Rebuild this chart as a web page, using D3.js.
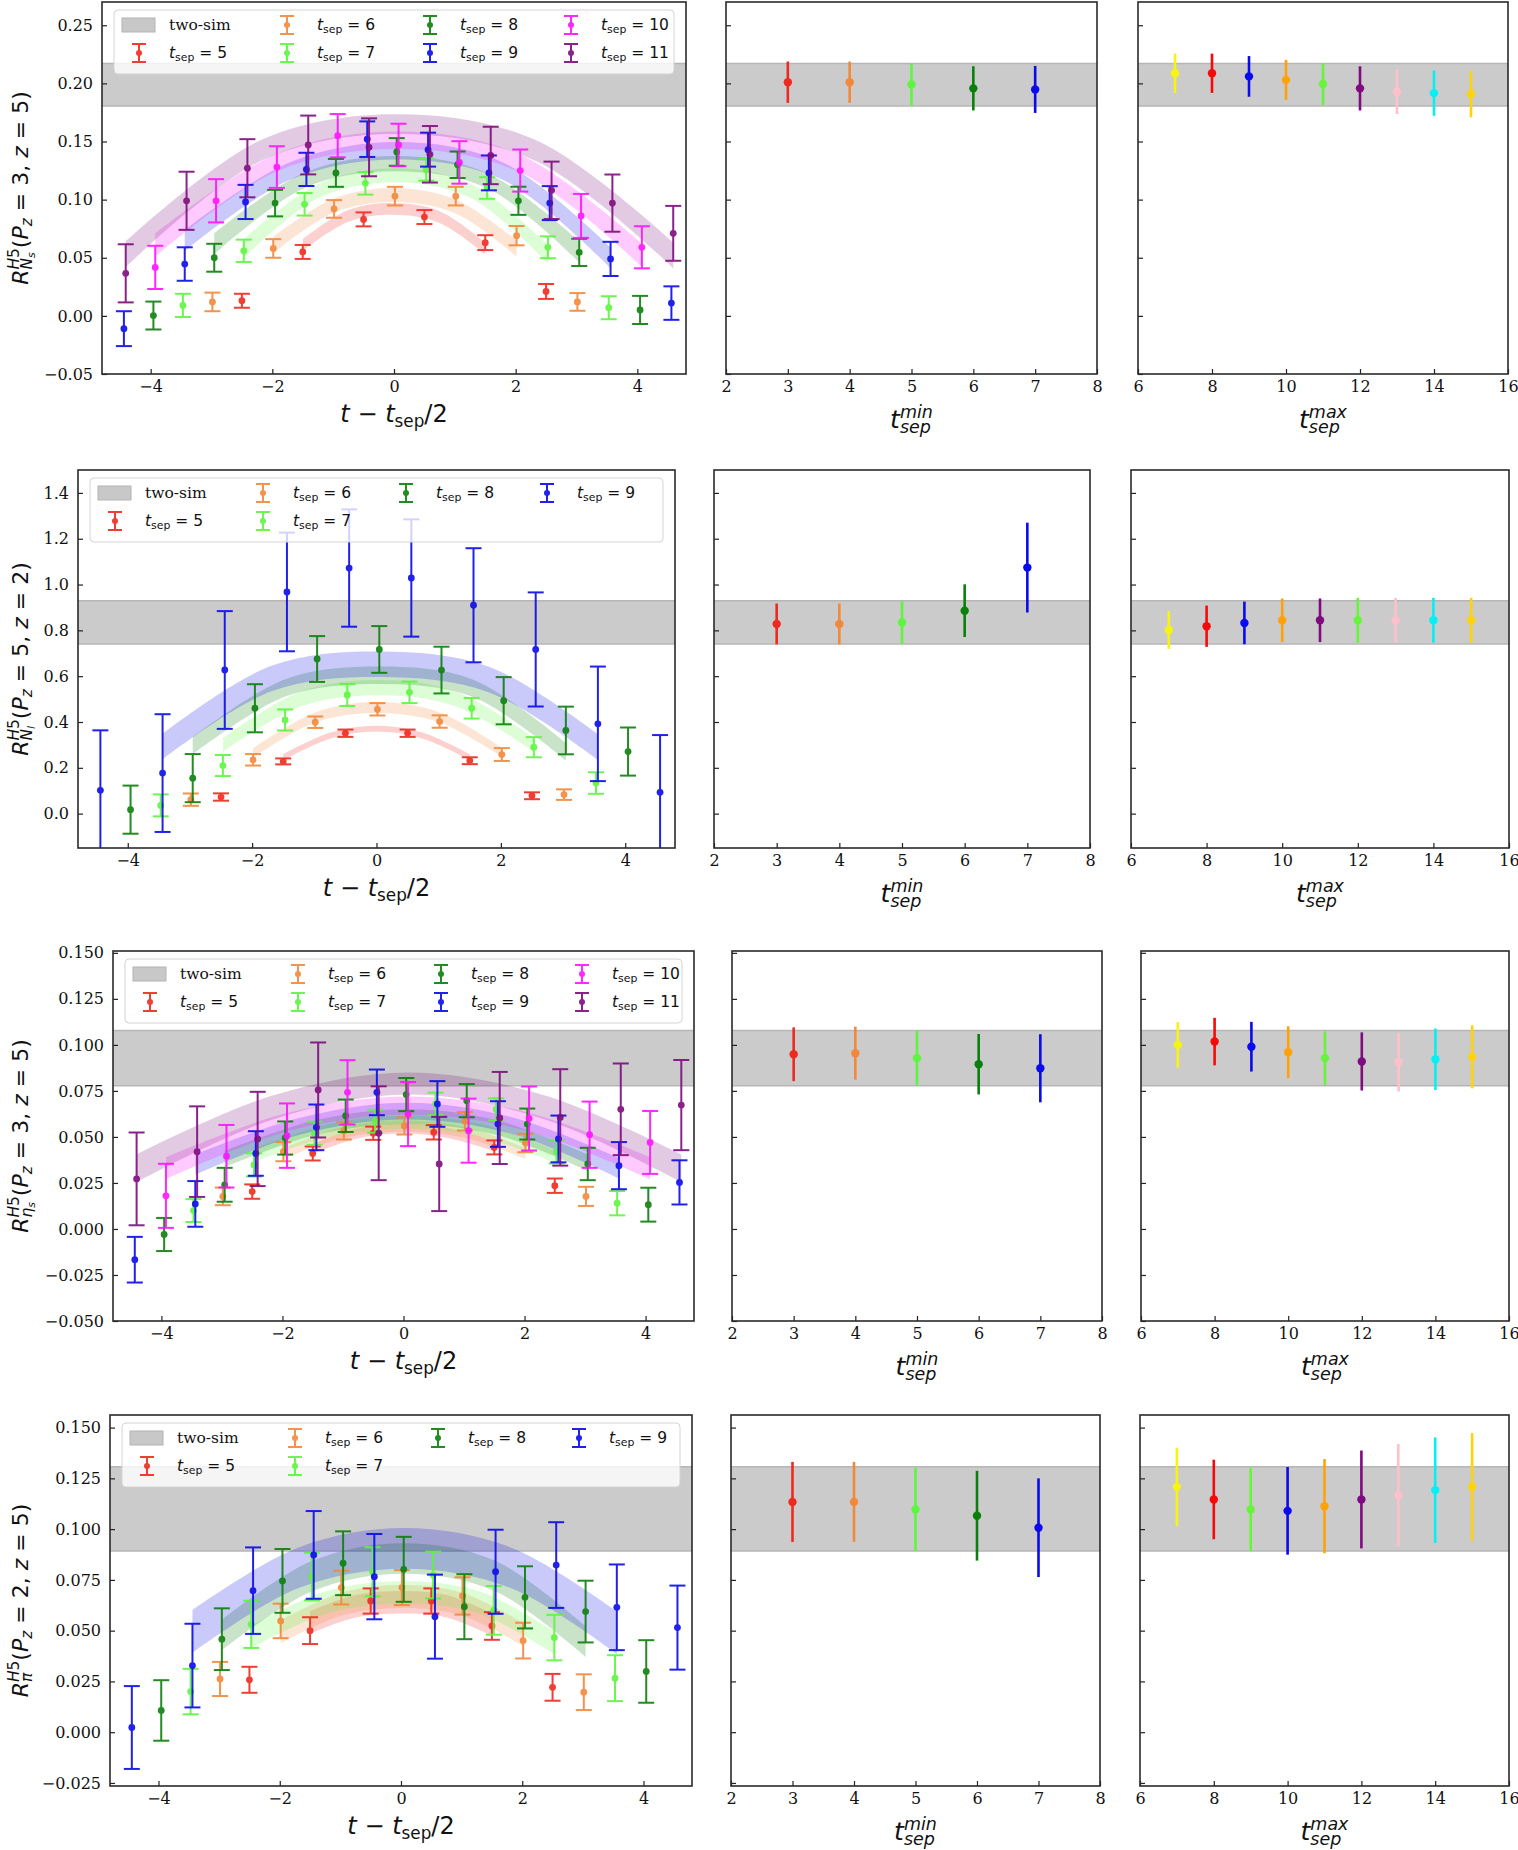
<!DOCTYPE html>
<html>
<head>
<meta charset="utf-8">
<script src="https://cdn.jsdelivr.net/npm/d3@7"></script>
<style>
  body { margin: 0; background: #fff; }
  text { fill: #111; }
</style>
</head>
<body>
<svg id="fig" width="1518" height="1850"></svg>
<script>
// ---------- data ----------
const leftXTicks = [-4, -2, 0, 2, 4]
const minXTicks = [2, 3, 4, 5, 6, 7, 8]
const maxXTicks = [6, 8, 10, 12, 14, 16]
const tminX = [3, 4, 5, 6, 7]
const tmaxX = [7, 8, 9, 10, 11, 12, 13, 14, 15]
const bandFrac = [-1, -0.5, 0, 0.5, 1]   // where the fit bands were read: ends, halfway, centre

// row 1: N_s, Pz=3, z=5
const r1Tsep = [5, 6, 7, 8, 9, 10, 11]
const r1YTicks = [-0.05, 0, 0.05, 0.1, 0.15, 0.2, 0.25]
const r1Val = [
  [0.013, 0.055, 0.083, 0.085, 0.063, 0.021],
  [0.012, 0.058, 0.092, 0.103, 0.103, 0.069, 0.012],
  [0.009, 0.056, 0.096, 0.114, 0.126, 0.110, 0.059, 0.007],
  [0.0003, 0.050, 0.097, 0.123, 0.141, 0.130, 0.099, 0.0546, 0.0051],
  [-0.011, 0.0446, 0.098, 0.126, 0.152, 0.143, 0.123, 0.097, 0.049, 0.011],
  [null, 0.0417, 0.099, 0.128, 0.155, 0.147, 0.132, 0.125, 0.086, 0.059, null],
  [null, 0.0366, 0.099, 0.127, 0.147, 0.145, 0.139, 0.138, 0.108, 0.097, 0.071, null]
]
const r1Err = [
  [0.006, 0.006, 0.006, 0.006, 0.0064, 0.0064],
  [0.008, 0.008, 0.0076, 0.008, 0.008, 0.0083, 0.0076],
  [0.010, 0.0096, 0.0097, 0.0097, 0.0097, 0.0093, 0.0094, 0.0099],
  [0.012, 0.012, 0.0114, 0.012, 0.0119, 0.0114, 0.0121, 0.0117, 0.0121],
  [0.015, 0.0144, 0.0147, 0.0143, 0.0153, 0.0146, 0.015, 0.0146, 0.0147, 0.0144],
  [null, 0.0186, 0.0186, 0.0179, 0.0186, 0.0183, 0.0183, 0.0181, 0.0189, 0.0181, null],
  [null, 0.025, 0.025, 0.025, 0.0253, 0.0249, 0.0243, 0.0247, 0.0247, 0.0246, 0.0236, null]
]
const r1BandMid = [
  [0.061, 0.086, 0.092, 0.085, 0.058],
  [0.061, 0.095, 0.104, 0.094, 0.058],
  [0.058, 0.108, 0.121, 0.107, 0.053],
  [0.062, 0.117, 0.131, 0.116, 0.055],
  [0.065, 0.125, 0.142, 0.124, 0.050],
  [0.061, 0.132, 0.151, 0.131, 0.052],
  [0.053, 0.143, 0.165, 0.142, 0.052]
]
const r1BandHw = [
  [0.005, 0.005, 0.005, 0.005, 0.005],
  [0.007, 0.006, 0.006, 0.006, 0.007],
  [0.008, 0.006, 0.006, 0.006, 0.008],
  [0.009, 0.0065, 0.0065, 0.0065, 0.009],
  [0.009, 0.0075, 0.0075, 0.0075, 0.009],
  [0.010, 0.0075, 0.0075, 0.0075, 0.010],
  [0.011, 0.009, 0.0085, 0.009, 0.011]
]
const r1TwoSim = [0.1805, 0.217]
const r1MinVal = [0.201, 0.201, 0.199, 0.1957, 0.1948]
const r1MinErr = [0.0178, 0.0178, 0.0179, 0.019, 0.0202]
const r1MaxVal = [0.2087, 0.2087, 0.206, 0.203, 0.1994, 0.1957, 0.1928, 0.1916, 0.1908]
const r1MaxErr = [0.017, 0.0169, 0.0175, 0.0172, 0.0179, 0.019, 0.0192, 0.0195, 0.020]

// row 2: N_l, Pz=5, z=2
const r2Tsep = [5, 6, 7, 8, 9]
const r2YTicks = [0, 0.2, 0.4, 0.6, 0.8, 1.0, 1.2, 1.4]
const r2Val = [
  [0.0725, 0.228, 0.351, 0.351, 0.231, 0.078],
  [0.061, 0.235, 0.399, 0.4555, 0.402, 0.258, 0.083],
  [0.036, 0.21, 0.409, 0.518, 0.5295, 0.46, 0.29, 0.1335],
  [0.0174, 0.155, 0.46, 0.675, 0.7167, 0.6267, 0.493, 0.363, 0.271],
  [0.1016, 0.177, 0.627, 0.9677, 1.072, 1.0286, 0.9096, 0.7167, 0.392, 0.093]
]
const r2Err = [
  [0.016, 0.013, 0.016, 0.016, 0.015, 0.015],
  [0.027, 0.025, 0.025, 0.027, 0.027, 0.028, 0.023],
  [0.048, 0.046, 0.046, 0.048, 0.047, 0.045, 0.044, 0.047],
  [0.105, 0.105, 0.105, 0.1, 0.102, 0.102, 0.103, 0.104, 0.105],
  [0.262, 0.257, 0.257, 0.259, 0.256, 0.256, 0.249, 0.249, 0.25, 0.25]
]
const r2BandMid = [
  [0.246, 0.34, 0.371, 0.34, 0.246],
  [0.265, 0.42, 0.463, 0.42, 0.268],
  [0.30, 0.50, 0.55, 0.50, 0.30],
  [0.297, 0.55, 0.604, 0.548, 0.27],
  [0.293, 0.59, 0.652, 0.585, 0.29]
]
const r2BandHw = [
  [0.013, 0.013, 0.013, 0.013, 0.013],
  [0.02, 0.022, 0.024, 0.022, 0.02],
  [0.03, 0.032, 0.033, 0.032, 0.03],
  [0.038, 0.038, 0.038, 0.038, 0.038],
  [0.056, 0.056, 0.056, 0.056, 0.056]
]
const r2TwoSim = [0.741, 0.929]
const r2MinVal = [0.828, 0.828, 0.834, 0.886, 1.074]
const r2MinErr = [0.089, 0.089, 0.093, 0.115, 0.196]
const r2MaxVal = [0.802, 0.818, 0.8325, 0.844, 0.844, 0.844, 0.844, 0.844, 0.844]
const r2MaxErr = [0.083, 0.09, 0.093, 0.095, 0.095, 0.098, 0.098, 0.098, 0.098]

// row 3: eta_s, Pz=3, z=5
const r3Tsep = [5, 6, 7, 8, 9, 10, 11]
const r3YTicks = [-0.05, -0.025, 0, 0.025, 0.05, 0.075, 0.1, 0.125, 0.15]
const r3Val = [
  [0.0203, 0.041, 0.052, 0.0525, 0.0443, 0.0235],
  [0.0177, 0.042, 0.0534, 0.056, 0.0585, 0.0467, 0.0177],
  [0.010, 0.0348, 0.052, 0.0585, 0.068, 0.065, 0.042, 0.014],
  [-0.003, 0.024, 0.0494, 0.0615, 0.073, 0.0697, 0.057, 0.0353, 0.0132],
  [-0.0167, 0.0136, 0.041, 0.0552, 0.0742, 0.0679, 0.057, 0.0489, 0.0344, 0.0253],
  [null, 0.018, 0.0395, 0.0507, 0.0742, 0.0624, 0.0534, 0.06, 0.0512, 0.047, null],
  [null, 0.0272, 0.042, 0.0489, 0.0755, 0.052, 0.0353, 0.0603, 0.0606, 0.065, 0.0673, null]
]
const r3Err = [
  [0.0039, 0.0038, 0.0036, 0.0039, 0.0038, 0.0039],
  [0.0048, 0.0052, 0.0048, 0.0047, 0.005, 0.005, 0.0052],
  [0.0062, 0.0063, 0.0063, 0.0062, 0.0061, 0.006, 0.0064, 0.0066],
  [0.009, 0.0092, 0.009, 0.0088, 0.009, 0.009, 0.0084, 0.0088, 0.0092],
  [0.0124, 0.0124, 0.0121, 0.0124, 0.0124, 0.0124, 0.0124, 0.0127, 0.0128, 0.012],
  [null, 0.0174, 0.017, 0.0175, 0.0175, 0.0174, 0.0174, 0.0174, 0.018, 0.0171, null],
  [null, 0.0252, 0.0246, 0.0256, 0.0258, 0.0255, 0.0256, 0.025, 0.0262, 0.0249, 0.0245, null]
]
const r3BandMid = [
  [0.0435, 0.052, 0.0545, 0.052, 0.045],
  [0.041, 0.0525, 0.056, 0.0525, 0.041],
  [0.040, 0.0535, 0.058, 0.0535, 0.039],
  [0.038, 0.055, 0.061, 0.055, 0.036],
  [0.035, 0.056, 0.064, 0.056, 0.033],
  [0.033, 0.058, 0.067, 0.058, 0.033],
  [0.033, 0.066, 0.079, 0.066, 0.033]
]
const r3BandHw = [
  [0.0027, 0.0027, 0.0027, 0.0027, 0.0027],
  [0.003, 0.003, 0.003, 0.003, 0.003],
  [0.0035, 0.0035, 0.0035, 0.0035, 0.0035],
  [0.0045, 0.004, 0.004, 0.004, 0.0045],
  [0.0055, 0.0045, 0.0045, 0.0045, 0.0055],
  [0.006, 0.005, 0.005, 0.005, 0.006],
  [0.0075, 0.0065, 0.006, 0.0065, 0.0075]
]
const r3TwoSim = [0.0778, 0.1078]
const r3MinVal = [0.0949, 0.0955, 0.0928, 0.0895, 0.0873]
const r3MinErr = [0.0146, 0.0144, 0.0148, 0.0164, 0.0185]
const r3MaxVal = [0.1, 0.1018, 0.099, 0.096, 0.0928, 0.091, 0.0906, 0.0922, 0.0935]
const r3MaxErr = [0.0124, 0.0129, 0.0135, 0.0141, 0.0146, 0.0158, 0.0159, 0.0167, 0.0171]

// row 4: pi, Pz=2, z=5
const r4Tsep = [5, 6, 7, 8, 9]
const r4YTicks = [-0.025, 0, 0.025, 0.05, 0.075, 0.1, 0.125, 0.15]
const r4Val = [
  [0.0258, 0.05, 0.0646, 0.0646, 0.0523, 0.0221],
  [0.0262, 0.0548, 0.0712, 0.0712, 0.0671, 0.0451, 0.0197],
  [0.020, 0.0531, 0.0766, 0.079, 0.0774, 0.060, 0.0466, 0.0266],
  [0.0107, 0.0458, 0.0745, 0.0832, 0.0802, 0.0618, 0.0664, 0.0594, 0.0299],
  [0.0023, 0.0328, 0.0697, 0.0873, 0.0766, 0.0569, 0.079, 0.0823, 0.0615, 0.0515]
]
const r4Err = [
  [0.0064, 0.0066, 0.0062, 0.0062, 0.0068, 0.0066],
  [0.0084, 0.0085, 0.0083, 0.0086, 0.0092, 0.0088, 0.0088],
  [0.0112, 0.0116, 0.0117, 0.0121, 0.0115, 0.012, 0.0112, 0.0113],
  [0.0149, 0.0152, 0.0157, 0.0157, 0.016, 0.016, 0.0153, 0.0152, 0.0154],
  [0.0204, 0.0206, 0.0213, 0.0216, 0.021, 0.0207, 0.0207, 0.0211, 0.0211, 0.0207]
]
const r4BandMid = [
  [0.054, 0.062, 0.064, 0.062, 0.053],
  [0.0495, 0.063, 0.0668, 0.063, 0.048],
  [0.047, 0.064, 0.0688, 0.064, 0.044],
  [0.048, 0.077, 0.0855, 0.077, 0.0446],
  [0.0497, 0.081, 0.0905, 0.081, 0.049]
]
const r4BandHw = [
  [0.0055, 0.0055, 0.0055, 0.0055, 0.0055],
  [0.0057, 0.0057, 0.0057, 0.0057, 0.0057],
  [0.0055, 0.0055, 0.0055, 0.0055, 0.0055],
  [0.0075, 0.0075, 0.0075, 0.0075, 0.0075],
  [0.0105, 0.01, 0.01, 0.01, 0.0105]
]
const r4TwoSim = [0.0892, 0.1307]
const r4MinVal = [0.1134, 0.1134, 0.1097, 0.1066, 0.1007]
const r4MinErr = [0.0197, 0.0197, 0.0205, 0.0221, 0.0243]
const r4MaxVal = [0.1208, 0.1146, 0.1097, 0.109, 0.1113, 0.1146, 0.1167, 0.1192, 0.1208]
const r4MaxErr = [0.0193, 0.0196, 0.0205, 0.0216, 0.0232, 0.0241, 0.0252, 0.026, 0.0265]

// ---------- styles ----------
const tsepColor = { 5: "#ee2a1e", 6: "#f2883a", 7: "#5ef540", 8: "#0b7f0b", 9: "#0a0aea", 10: "#ff12ff", 11: "#7d0c7d" }
const pal = { yellow: "#f7f510", red: "#f50a0a", blue: "#0a0af0", orange: "#ffa20a", lgreen: "#66f53c",
  purple: "#800a80", pink: "#ffc0cb", cyan: "#05f0f5", gold: "#ffd30a" }
const minColors = [tsepColor[5], tsepColor[6], tsepColor[7], tsepColor[8], tsepColor[9]]
const maxOrder = [
  ["yellow", "red", "blue", "orange", "lgreen", "purple", "pink", "cyan", "gold"],
  ["yellow", "red", "blue", "orange", "purple", "lgreen", "pink", "cyan", "gold"],
  ["yellow", "red", "blue", "orange", "lgreen", "purple", "pink", "cyan", "gold"],
  ["yellow", "red", "lgreen", "blue", "orange", "purple", "pink", "cyan", "gold"]
]
const serif = "DejaVu Serif"
const sans = "DejaVu Sans"

// panel frames in pixels (the figure is a stack of four image rows)
const frames = [
  { L: [102, 686], M: [726, 1097], R: [1138, 1508], y: [2, 374] },
  { L: [78, 675], M: [714, 1090], R: [1131, 1509], y: [470, 848] },
  { L: [113, 694], M: [732, 1102], R: [1141, 1509], y: [951, 1321] },
  { L: [110, 692], M: [731, 1100], R: [1140, 1509], y: [1415, 1786] }
]

// y labels as math tokens: [text, italic, level(0 / 1 sup / -1 sub / -2 subsub), back-to-script-start]
const tail = (p, z) => [["(", 0, 0], ["P", 1, 0], ["z", 1, -1], [" = " + p + ", ", 0, 0], ["z", 1, 0], [" = " + z + ")", 0, 0]]
const yLabels = [
  [["R", 1, 0], ["H", 1, 1], ["5", 0, 1], ["N", 1, -1, 1], ["s", 1, -2], ...tail(3, 5)],
  [["R", 1, 0], ["H", 1, 1], ["5", 0, 1], ["N", 1, -1, 1], ["l", 1, -2], ...tail(5, 2)],
  [["R", 1, 0], ["H", 1, 1], ["5", 0, 1], ["\u03b7", 1, -1, 1], ["s", 1, -2], ...tail(3, 5)],
  [["R", 1, 0], ["H", 1, 1], ["5", 0, 1], ["\u03c0", 1, -1, 1], ...tail(2, 5)]
]

const rows = [
  { tseps: r1Tsep, val: r1Val, err: r1Err, bMid: r1BandMid, bHw: r1BandHw, two: r1TwoSim,
    minV: r1MinVal, minE: r1MinErr, maxV: r1MaxVal, maxE: r1MaxErr, yDom: [-0.05, 0.27], yTicks: r1YTicks, fmt: ".2f" },
  { tseps: r2Tsep, val: r2Val, err: r2Err, bMid: r2BandMid, bHw: r2BandHw, two: r2TwoSim,
    minV: r2MinVal, minE: r2MinErr, maxV: r2MaxVal, maxE: r2MaxErr, yDom: [-0.15, 1.5], yTicks: r2YTicks, fmt: ".1f" },
  { tseps: r3Tsep, val: r3Val, err: r3Err, bMid: r3BandMid, bHw: r3BandHw, two: r3TwoSim,
    minV: r3MinVal, minE: r3MinErr, maxV: r3MaxVal, maxE: r3MaxErr, yDom: [-0.05, 0.151], yTicks: r3YTicks, fmt: ".3f" },
  { tseps: r4Tsep, val: r4Val, err: r4Err, bMid: r4BandMid, bHw: r4BandHw, two: r4TwoSim,
    minV: r4MinVal, minE: r4MinErr, maxV: r4MaxVal, maxE: r4MaxErr, yDom: [-0.0265, 0.1562], yTicks: r4YTicks, fmt: ".3f" }
]

const svg = d3.select("#fig")
const defs = svg.append("defs")
let clipCount = 0

function addClip(xr, yr) {
  const id = "clip" + (clipCount++)
  defs.append("clipPath").attr("id", id).append("rect")
    .attr("x", xr[0]).attr("y", yr[0]).attr("width", xr[1] - xr[0]).attr("height", yr[1] - yr[0])
  return id
}

/**
 * small mathtext-like writer: italic letters, sup/sub scripts
 */
function mathText(parent, x, y, toks, size, anchor, rotate) {
  const outer = parent.append("g").attr("transform", `translate(${x},${y})` + (rotate ? " rotate(-90)" : ""))
  const g = outer.append("g")
  let cx = 0, sStart = 0, sMax = 0, prev = 0
  toks.forEach(([txt, it, lvl, back]) => {
    if (lvl !== 0 && prev === 0) { sStart = cx; sMax = cx }
    if (lvl === 0 && prev !== 0) cx = Math.max(cx, sMax)
    if (back) cx = sStart
    const fs = lvl === 0 ? size : (Math.abs(lvl) === 1 ? size * 0.7 : size * 0.5)
    const dy = lvl === 1 ? -size * 0.4 : lvl === -1 ? size * 0.2 : lvl === -2 ? size * 0.34 : 0
    const t = g.append("text").attr("x", cx).attr("y", dy)
      .style("font-family", sans).style("font-size", fs + "px")
      .style("font-style", it ? "italic" : "normal")
      .attr("xml:space", "preserve")
      .text(txt)
    cx += t.node().getComputedTextLength()
    if (lvl !== 0) sMax = Math.max(sMax, cx)
    prev = lvl
  })
  const w = Math.max(cx, sMax)
  if (anchor === "middle") g.attr("transform", `translate(${-w / 2},0)`)
  return outer
}

function twoSimBand(g, xr, y, two) {
  g.append("rect").attr("x", xr[0]).attr("width", xr[1] - xr[0])
    .attr("y", y(two[1])).attr("height", y(two[0]) - y(two[1]))
    .attr("fill", "#cbcbcb")
  two.forEach(v => {
    g.append("line").attr("x1", xr[0]).attr("x2", xr[1]).attr("y1", y(v)).attr("y2", y(v))
      .attr("stroke", "#b6b6b6").attr("stroke-width", 1.5)
  })
}

function drawAxes(g, x, y, xr, yr, xTicks, yTicks, fmt, showY) {
  const ax = g.append("g").attr("transform", `translate(0,${yr[1]})`)
    .call(d3.axisBottom(x).tickValues(xTicks).tickFormat(d3.format("d"))
      .tickSizeInner(-5).tickSizeOuter(0).tickPadding(7))
  const ay = g.append("g").attr("transform", `translate(${xr[0]},0)`)
    .call(d3.axisLeft(y).tickValues(yTicks).tickFormat(showY ? d3.format(fmt) : () => "")
      .tickSizeInner(-5).tickSizeOuter(0).tickPadding(9))
  ;[ax, ay].forEach(a => {
    a.select(".domain").remove()
    a.selectAll(".tick line").attr("stroke", "#222").attr("stroke-width", 1.2)
    a.selectAll(".tick text").style("font-family", serif).style("font-size", "16px").attr("fill", "#111")
  })
  g.append("rect").attr("x", xr[0]).attr("y", yr[0]).attr("width", xr[1] - xr[0]).attr("height", yr[1] - yr[0])
    .attr("fill", "none").attr("stroke", "#2a2a2a").attr("stroke-width", 1.6)
}

function errBar(g, x, y, color, cap, lw, r) {
  g.append("line").attr("x1", x).attr("x2", x).attr("y1", y[1]).attr("y2", y[2])
    .attr("stroke", color).attr("stroke-width", lw)
  if (cap) {
    ;[y[1], y[2]].forEach(yy => g.append("line").attr("x1", x - cap).attr("x2", x + cap)
      .attr("y1", yy).attr("y2", yy).attr("stroke", color).attr("stroke-width", lw))
  }
  g.append("circle").attr("cx", x).attr("cy", y[0]).attr("r", r).attr("fill", color)
}

function drawLegend(g, fr, tseps) {
  const bx = fr.L[0] + 12, by = fr.y[0] + 8
  const bw = fr.L[1] - fr.L[0] - 24, bh = 64
  g.append("rect").attr("x", bx).attr("y", by).attr("width", bw).attr("height", bh).attr("rx", 4)
    .attr("fill", "#fff").attr("fill-opacity", 0.8).attr("stroke", "#d4d4d4").attr("stroke-width", 1)
  const entries = ["two", ...tseps]
  const ncol = 4, nrow = Math.ceil(entries.length / ncol)
  const full = entries.length - (nrow - 1) * ncol
  const colX = [0, 148, 291, 432]
  let idx = 0
  for (let c = 0; c < ncol; c++) {
    const cnt = c < full ? nrow : nrow - 1
    for (let r = 0; r < cnt; r++) {
      const e = entries[idx++]
      const ex = bx + colX[c], ey = by + 15 + r * 28
      if (e === "two") {
        g.append("rect").attr("x", ex + 8).attr("y", ey - 7).attr("width", 33).attr("height", 14)
          .attr("fill", "#c8c8c8").attr("stroke", "#b4b4b4")
        g.append("text").attr("x", ex + 55).attr("y", ey + 5).text("two-sim")
          .style("font-family", serif).style("font-size", "15.5px")
      } else {
        const col = tsepColor[e]
        const hg = g.append("g").attr("opacity", 0.9)
        errBar(hg, ex + 25, [ey, ey - 9, ey + 9], col, 7, 2, 3)
        mathText(g, ex + 55, ey + 5, [["t", 1, 0], ["sep", 0, -1], [" = " + e, 0, 0]], 15.5, "start")
      }
    }
  }
}

function drawRow(row, fr, k) {
  const g = svg.append("g")
  const y = d3.scaleLinear().domain(row.yDom).range([fr.y[1], fr.y[0]])
  const yc = (fr.y[0] + fr.y[1]) / 2

  // ----- left panel: ratio vs t - tsep/2 -----
  const x = d3.scaleLinear().domain([-4.8, 4.8]).range(fr.L)
  const body = g.append("g").attr("clip-path", `url(#${addClip(fr.L, fr.y)})`)
  twoSimBand(body, fr.L, y, row.two)

  const area = d3.area().x(d => x(d.x)).y0(d => y(d.lo)).y1(d => y(d.hi)).curve(d3.curveCatmullRom)
  row.tseps.forEach((ts, i) => {
    const e = ts / 2 - 1, sh = (ts - 5) * 0.015
    const pts = bandFrac.map((f, j) => ({ x: f * e + sh, lo: row.bMid[i][j] - row.bHw[i][j], hi: row.bMid[i][j] + row.bHw[i][j] }))
    body.append("path").datum(pts).attr("d", area)
      .attr("fill", tsepColor[ts]).attr("fill-opacity", 0.22)
  })
  row.tseps.forEach((ts, i) => {
    const sh = (ts - 5) * 0.015
    const sg = body.append("g").attr("opacity", 0.9)
    row.val[i].forEach((v, t) => {
      if (v == null) return
      const er = row.err[i][t]
      errBar(sg, x(t - ts / 2 + sh), [y(v), y(v + er), y(v - er)], tsepColor[ts], 8, 2, 3.4)
    })
  })
  drawAxes(g, x, y, fr.L, fr.y, leftXTicks, row.yTicks, row.fmt, true)
  drawLegend(g, fr, row.tseps)
  mathText(g, (fr.L[0] + fr.L[1]) / 2, fr.y[1] + 48,
    [["t", 1, 0], [" \u2212 ", 0, 0], ["t", 1, 0], ["sep", 0, -1], ["/2", 0, 0]], 24, "middle")
  mathText(g, 28, yc, yLabels[k], 22, "middle", true)

  // ----- middle panel: tsep min -----
  const xm = d3.scaleLinear().domain([2, 8]).range(fr.M)
  const bm = g.append("g").attr("clip-path", `url(#${addClip(fr.M, fr.y)})`)
  twoSimBand(bm, fr.M, y, row.two)
  tminX.forEach((tv, i) => {
    const v = row.minV[i], er = row.minE[i]
    errBar(bm, xm(tv), [y(v), y(v + er), y(v - er)], minColors[i], 0, 2.6, 4.2)
  })
  drawAxes(g, xm, y, fr.M, fr.y, minXTicks, row.yTicks, row.fmt, false)
  mathText(g, (fr.M[0] + fr.M[1]) / 2, fr.y[1] + 54,
    [["t", 1, 0], ["min", 1, 1], ["sep", 1, -1, 1]], 25, "middle")

  // ----- right panel: tsep max -----
  const xr = d3.scaleLinear().domain([6, 16]).range(fr.R)
  const br = g.append("g").attr("clip-path", `url(#${addClip(fr.R, fr.y)})`)
  twoSimBand(br, fr.R, y, row.two)
  tmaxX.forEach((tv, i) => {
    const v = row.maxV[i], er = row.maxE[i]
    errBar(br, xr(tv), [y(v), y(v + er), y(v - er)], pal[maxOrder[k][i]], 0, 2.6, 4.2)
  })
  drawAxes(g, xr, y, fr.R, fr.y, maxXTicks, row.yTicks, row.fmt, false)
  mathText(g, (fr.R[0] + fr.R[1]) / 2, fr.y[1] + 54,
    [["t", 1, 0], ["max", 1, 1], ["sep", 1, -1, 1]], 25, "middle")
}

rows.forEach((row, k) => drawRow(row, frames[k], k))
</script>
</body>
</html>
